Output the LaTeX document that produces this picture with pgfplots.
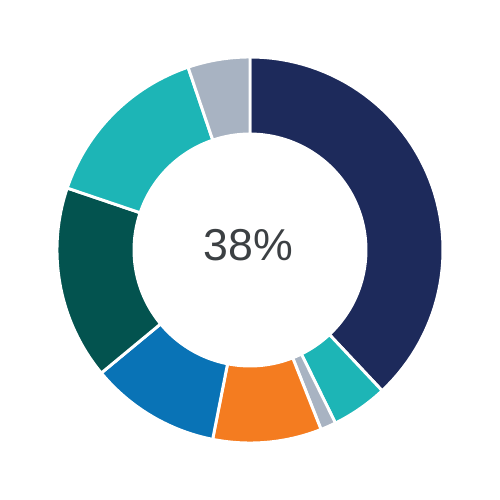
\documentclass[border=0pt]{standalone}
\usepackage{pgfplots}
\pgfplotsset{compat=1.18}
\usepackage{fontspec}
\setmainfont{Liberation Sans}

\definecolor{cnavy}{HTML}{1D2A5B}
\definecolor{cteal}{HTML}{1DB5B6}
\definecolor{cgray}{HTML}{A8B3C2}
\definecolor{corange}{HTML}{F47C20}
\definecolor{cblue}{HTML}{0973B6}
\definecolor{cdgreen}{HTML}{03534F}
\definecolor{ctext}{HTML}{3C4043}

% one ring segment: colour, start %, end % (clockwise from the top)
\newcommand\seg[3]{%
  \addplot[fill=#1, draw=white, line width=2.2pt, line join=miter,
    samples at={0,1,...,121}, variable=\t]
    ({((\t<=60)?193:116)*sin(3.6*(#2+(#3-#2)*((\t<=60)?\t:(121-\t))/60))},
     {((\t<=60)?193:116)*cos(3.6*(#2+(#3-#2)*((\t<=60)?\t:(121-\t))/60))}) -- cycle;
}

\begin{document}
\begin{tikzpicture}
\begin{axis}[
    scale only axis, width=375pt, height=375pt,
    xmin=-250, xmax=250, ymin=-250, ymax=250,
    axis line style={draw=none}, xtick=\empty, ytick=\empty,
    clip=false
]
\seg{cnavy}{0}{38}
\seg{cteal}{38}{42.7}
\seg{cgray}{42.7}{44}
\seg{corange}{44}{53.1}
\seg{cblue}{53.1}{64}
\seg{cdgreen}{64}{80.2}
\seg{cteal}{80.2}{94.8}
\seg{cgray}{94.8}{100}

\node[text=ctext, font=\fontsize{33.5}{40}\selectfont] at (axis cs:-1.5,5) {38\%};
\end{axis}
\end{tikzpicture}
\end{document}
